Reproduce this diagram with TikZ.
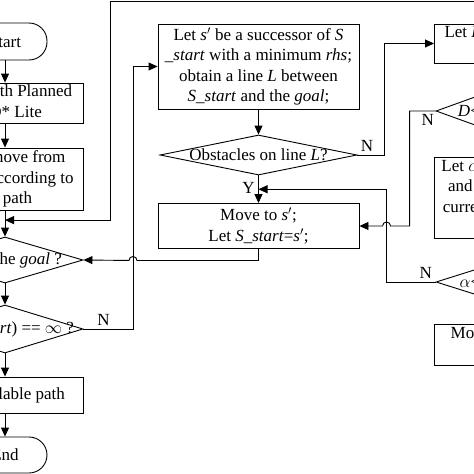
\documentclass[tikz,border=0pt]{standalone}
\usepackage{fontspec}
\setmainfont{Liberation Serif}
\usetikzlibrary{shapes.geometric, arrows.meta, calc}
\tikzstyle{startstop} = [rectangle, rounded corners=18pt, minimum width=84pt, minimum height=37pt, text centered, draw=black]
\tikzstyle{process} = [rectangle, minimum width=156pt, align=center, inner sep=2pt, draw=black]
\tikzstyle{decision} = [diamond, aspect=3, inner sep=0pt, draw=black]
\tikzstyle{arrow} = [-{Triangle[length=9pt,width=8pt]}]

\begin{document}
\begin{tikzpicture}[x=1pt, y=1pt, line width=0.9pt, font=\fontsize{17}{20.5}\selectfont, node distance=60pt]
		\useasboundingbox (0,0) rectangle (474,-474);
		\clip (0,0) rectangle (474,-474);
		% left column
		\node (start) [startstop] at (5,-41.5) {Start};
		\node (plan) [process, minimum height=40pt, below of = start, yshift = -1.5pt] {Initial Path Planned\\ by D* Lite};
		\node (move) [process, minimum height=62pt, below of = plan, yshift = -16pt] {Robot move from\\ \textit{S\_start} according to\\ the path};
		\node (goal) [decision, minimum width=156pt, minimum height=46pt, below of = move, yshift = -21pt] {\makebox[0pt]{Reach the \textit{goal} ?}};
		\node (inf) [decision, minimum width=156pt, minimum height=48pt, below of = goal, yshift = -9pt] {\makebox[0pt]{\textit{rhs}(\textit{S\_start}) == $\infty$ ?}};
		\node (nopath) [process, minimum height=36pt, below of = inf, yshift = -6pt] {No available path};
		\node (end) [startstop, minimum height=36pt, below of = nopath] {End};
		% middle column
		\node (succ) [process, minimum width=201pt, minimum height=85pt] at (258.5,-66.5) {Let \textit{s}$'$ be a successor of \textit{S}\\ \textit{\_start} with a minimum \textit{rhs};\\ obtain a line \textit{L} between\\ \textit{S\_start} and the \textit{goal};};
		\node (obst) [decision, minimum width=197pt, minimum height=40pt, below of = succ, yshift = -28.5pt] {\makebox[0pt]{Obstacles on line \textit{L}?}};
		\node (moveto) [process, minimum width=201pt, minimum height=45pt, below of = obst, yshift = -11pt] {Move to \textit{s}$'$;\\ Let \textit{S}\_\textit{start}=\textit{s}$'$;};
		% right column
		\node (letR) [process, minimum width=200pt, minimum height=39pt, anchor=west] at (434,-43.5) {Let \textit{R} be the sensing range\\ of the robot;};
		\node (dcond) [decision, minimum width=88pt, minimum height=32pt] at (480,-111) {\makebox[0pt]{\textit{D}<\textit{R} ?}};
		\node (letA) [process, minimum width=200pt, minimum height=81pt, anchor=west] at (434,-197.5) {Let $\alpha$ be the angle of line \textit{L}\\ and the heading vector of\\ current direction of a robot\\ at \textit{S\_start};};
		\node (acond) [decision, minimum width=88pt, minimum height=28pt] at (480,-282) {\makebox[0pt]{$\alpha$<$\theta$ ?}};
		\node (moveR) [process, minimum width=200pt, minimum height=41pt, anchor=west] at (434,-344.5) {Move along line \textit{L} to the\\ \textit{goal};};
		\coordinate (back) at (480,-1.2);
		\coordinate (merge) at ($(move.south)!0.37!(goal.north)$);
		\coordinate (join) at ($(obst.south)!0.5!(moveto.north)$);
		% connectors
		\draw [arrow] (start) -- (plan);
		\draw [arrow] (plan) -- (move);
		\draw [arrow] (move) -- (goal);
		\draw [arrow] (goal) -- (inf);
		\draw [arrow] (inf) -- (nopath);
		\draw [arrow] (nopath) -- (end);
		\draw [arrow] (succ) -- (obst);
		\draw [arrow] (obst) -- node[left, pos=0.45] {Y} (moveto);
		\draw [arrow] (inf.east) -- node[above, pos=0.4] {N} ++(50,0) |- (succ.west);
		\draw [arrow] (obst.east) -- node[above, pos=0.35] {N} ++(27,0) |- (letR.west);
		\draw [arrow] (dcond.west) -- node[below, pos=0.3] {N} ++(-26,0) -- ++(0,-115) -- ++(-19,0) arc[start angle=0, end angle=180, radius=4] -- (moveto.east);
		\draw [arrow] (acond.west) -- node[above, pos=0.2] {N} ++(-49,0) |- (join);
		\draw [arrow] (moveto.south) -- ++(0,-11.5) -- ++(-121.5,0) arc[start angle=0, end angle=180, radius=4] -- (goal.east);
		\draw [arrow] (back) -- ++(-370,0) |- (merge);
	\end{tikzpicture}
\end{document}
